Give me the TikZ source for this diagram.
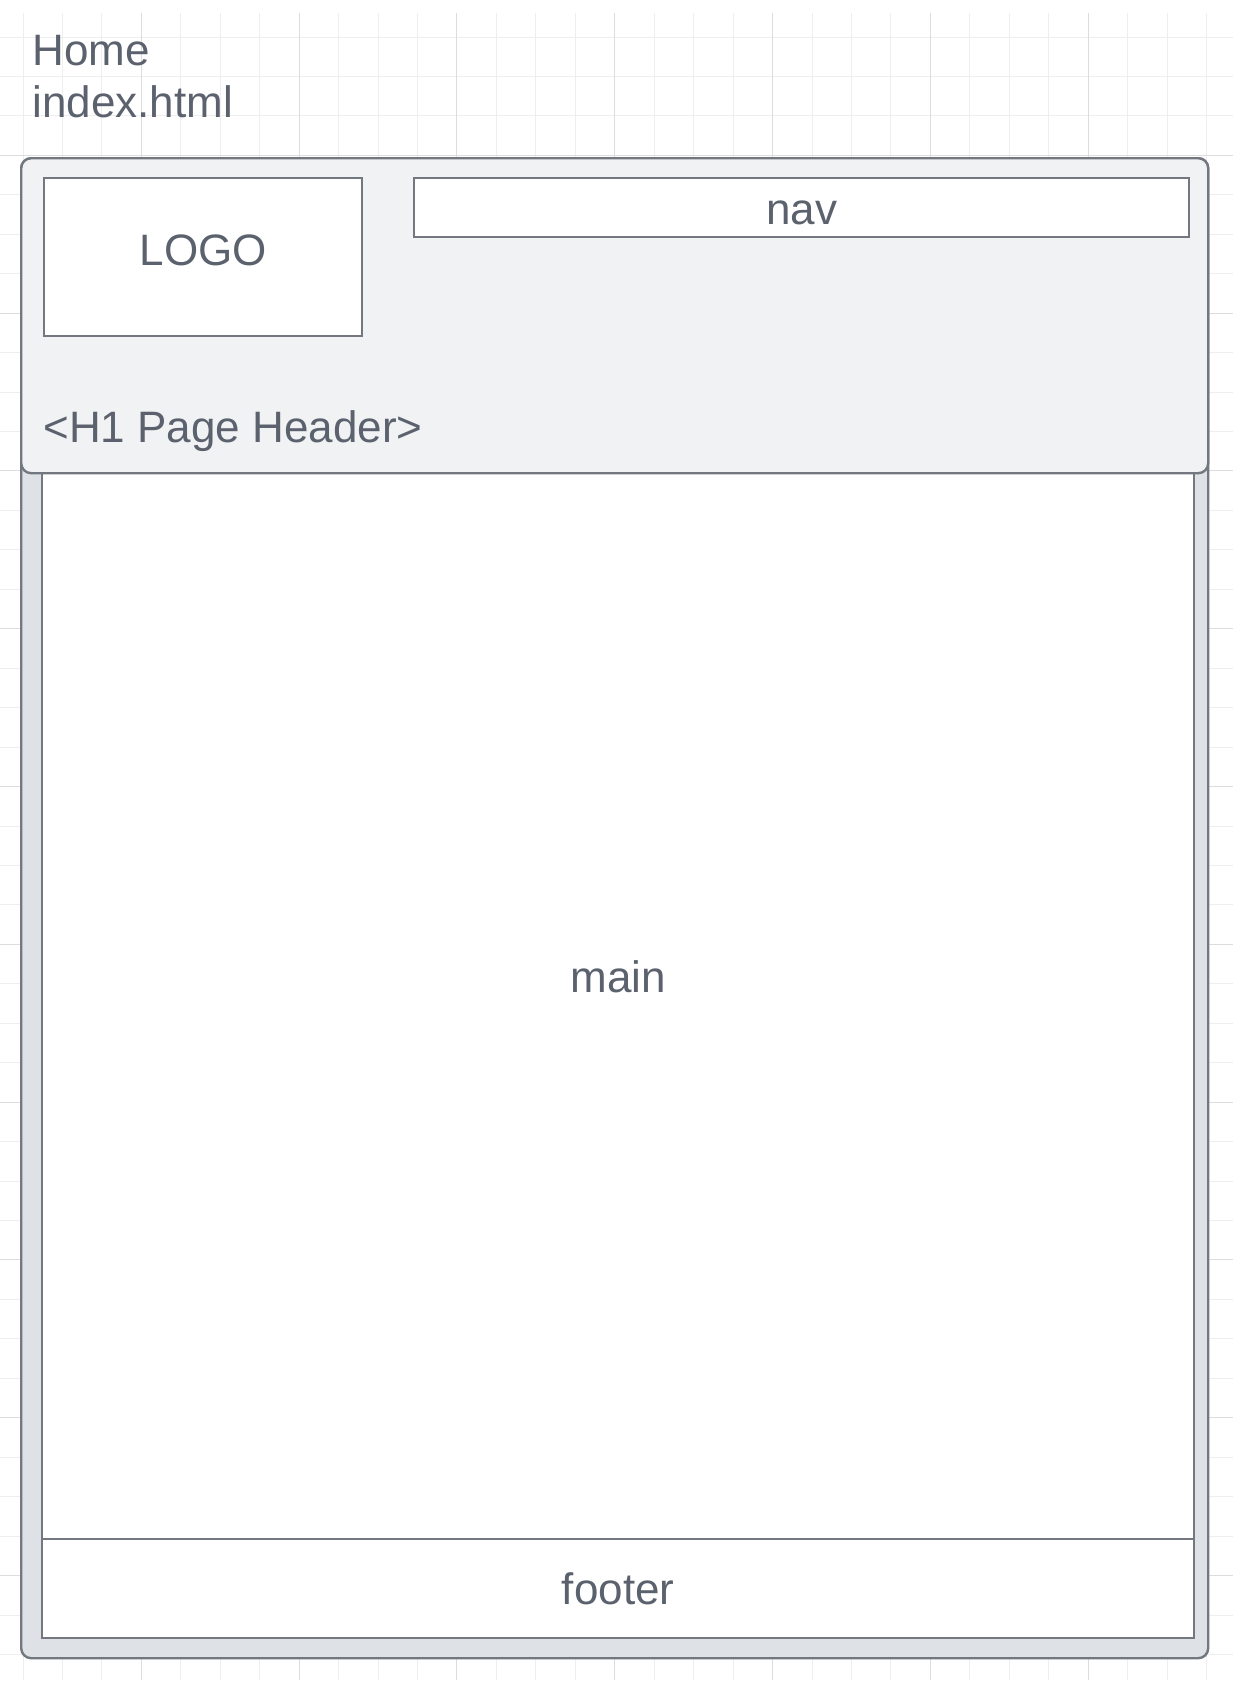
\documentclass[tikz,border=0pt]{standalone}
\usepackage{fontspec}
\setmainfont{Liberation Sans}

\definecolor{gridminor}{HTML}{EEEEEE}
\definecolor{gridmajor}{HTML}{DDDDDD}
\definecolor{edge}{HTML}{737880}
\definecolor{ink}{HTML}{5B626E}
\definecolor{headfill}{HTML}{F1F2F4}
\definecolor{framefill}{HTML}{DEE1E6}

\tikzset{
  box/.style={draw=edge,line width=1.2pt,fill=white,inner sep=0pt},
  lbl/.style={text=ink,font=\fontsize{22}{26}\selectfont,inner sep=0pt},
}

\begin{document}
\begin{tikzpicture}[x=0.5pt,y=-0.5pt]
\useasboundingbox (0,0) rectangle (1250,1697);
% grid
\foreach \k in {0,...,30}
  \draw[gridminor,line width=0.5pt] (23+39.45*\k,13)--(23+39.45*\k,1680);
\foreach \k in {0,...,41}
  \draw[gridminor,line width=0.5pt] (0,37+39.45*\k)--(1233,37+39.45*\k);
\foreach \k in {3,7,...,27}
  \draw[gridmajor,line width=0.5pt] (23+39.45*\k,13)--(23+39.45*\k,1680);
\foreach \k in {3,7,...,39}
  \draw[gridmajor,line width=0.5pt] (0,37+39.45*\k)--(1233,37+39.45*\k);

\node[lbl,anchor=base west] (home) at (32,65) {Home};
\node[lbl,anchor=base west] (file) at (32,117) {index.html};

% page
\node[box,fill=framefill,rounded corners=5pt,anchor=north west,
  minimum width=593.5pt,minimum height=750pt] (page) at (20,157) {};
\node[box,lbl,draw=edge,anchor=north west,
  minimum width=576pt,minimum height=661pt] (main) at (41,315) {main};
\node[box,lbl,draw=edge,anchor=north west,
  minimum width=576pt,minimum height=49.5pt] (footer) at (41,1538) {footer};

% header
\node[box,fill=headfill,rounded corners=5pt,anchor=north west,
  minimum width=593.5pt,minimum height=157.5pt] (header) at (20,157) {};
\node[box,lbl,draw=edge,anchor=north west,text depth=7pt,
  minimum width=159pt,minimum height=79pt] (logo) at (43,177) {LOGO};
\node[box,lbl,draw=edge,anchor=north west,text height=17pt,text depth=0pt,
  minimum width=387.5pt,minimum height=29.5pt] (nav) at (413,177) {nav};
\node[lbl,anchor=base west] (title) at (43,442) {<H1 Page Header>};
\end{tikzpicture}
\end{document}
